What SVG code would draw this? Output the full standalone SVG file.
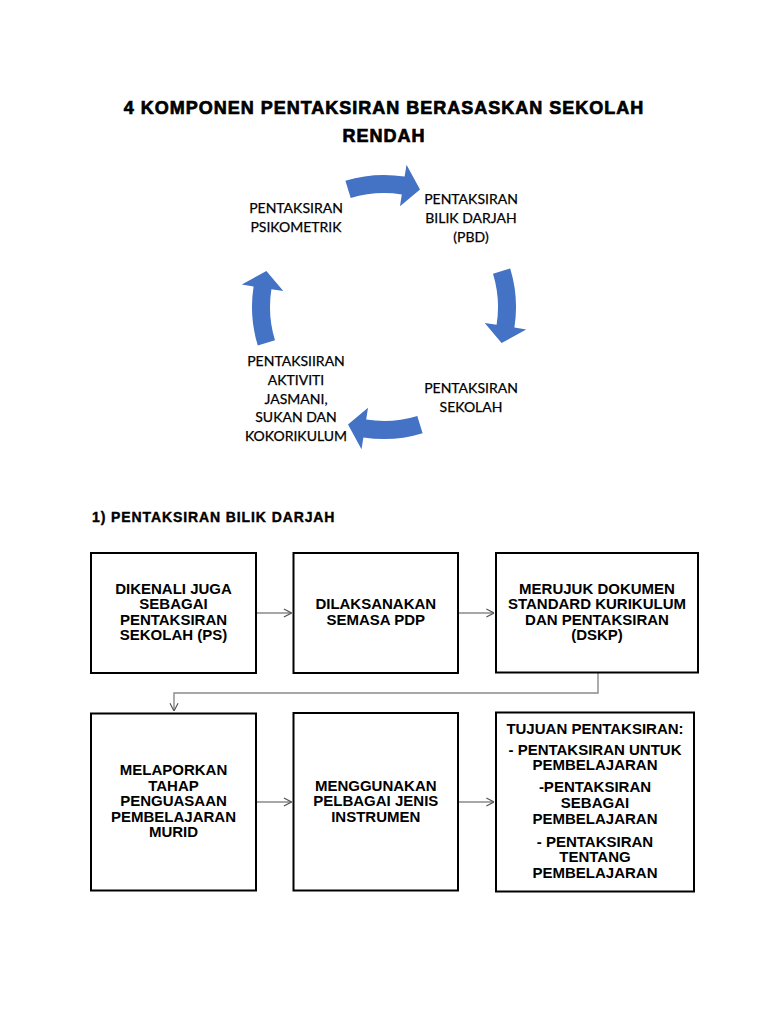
<svg xmlns="http://www.w3.org/2000/svg" width="768" height="1024" viewBox="0 0 768 1024">
  <style>
    .title { font-family: "Liberation Sans", Arial, sans-serif; font-weight: bold; font-size: 18px; letter-spacing: 1px; fill: #000; stroke: #000; stroke-width: 0.7; text-anchor: middle; }
    .heading { font-family: "Liberation Sans", Arial, sans-serif; font-weight: bold; font-size: 14px; letter-spacing: 0.9px; fill: #000; stroke: #000; stroke-width: 0.4; }
    .cyc { font-family: Lato, "Liberation Sans", sans-serif; font-size: 14px; fill: #000; stroke: #000; stroke-width: 0.25; text-anchor: middle; }
    .box { fill: #fff; stroke: #000; stroke-width: 2; }
    .bt { font-family: "Liberation Sans", Arial, sans-serif; font-weight: bold; font-size: 15px; fill: #000; text-anchor: middle; }
    .conn { fill: none; stroke: #8a8a8a; stroke-width: 1.4; }
    .blue { fill: #4472C4; }
  </style>
  <defs>
    <marker id="chev" viewBox="0 0 10 10" refX="9.5" refY="5" markerWidth="9" markerHeight="10" markerUnits="userSpaceOnUse" orient="auto">
      <path d="M1,0.5 L9.5,5 L1,9.5" fill="none" stroke="#555" stroke-width="1.3"/>
    </marker>
    <path id="carrow" d="M345.4,180.8 A132,132 0 0 1 404.6,176.6 L406.5,164.8 L420,189.4 L400,206.3 L401.8,194.4 A114,114 0 0 0 350.7,198 Z"/>
  </defs>

  <rect width="768" height="1024" fill="#fff"/>

  <g id="title">
    <text class="title" x="384" y="114">4 KOMPONEN PENTAKSIRAN BERASASKAN SEKOLAH</text>
    <text class="title" x="384" y="142">RENDAH</text>
  </g>

  <g id="connectors">
    <g id="cycle-arrows" class="blue">
      <use href="#carrow"/>
      <use href="#carrow" transform="rotate(90 384 307)"/>
      <use href="#carrow" transform="rotate(180 384 307)"/>
      <use href="#carrow" transform="rotate(270 384 307)"/>
    </g>
    <line class="conn" x1="256.5" y1="613" x2="291.5" y2="613" marker-end="url(#chev)"/>
    <line class="conn" x1="458.5" y1="613" x2="494" y2="613" marker-end="url(#chev)"/>
    <path class="conn" d="M598,673 V693 H174 V711" marker-end="url(#chev)"/>
    <line class="conn" x1="256.5" y1="802" x2="291.5" y2="802" marker-end="url(#chev)"/>
    <line class="conn" x1="458.5" y1="802" x2="494" y2="802" marker-end="url(#chev)"/>
  </g>

  <g id="node-psikometrik">
    <text class="cyc" x="296" y="213">PENTAKSIRAN</text>
    <text class="cyc" x="296" y="232">PSIKOMETRIK</text>
  </g>
  <g id="node-pbd">
    <text class="cyc" x="471" y="204">PENTAKSIRAN</text>
    <text class="cyc" x="471" y="223">BILIK DARJAH</text>
    <text class="cyc" x="471" y="242">(PBD)</text>
  </g>
  <g id="node-sekolah">
    <text class="cyc" x="471" y="393">PENTAKSIRAN</text>
    <text class="cyc" x="471" y="412">SEKOLAH</text>
  </g>
  <g id="node-aktiviti">
    <text class="cyc" x="296" y="366">PENTAKSIIRAN</text>
    <text class="cyc" x="296" y="385">AKTIVITI</text>
    <text class="cyc" x="296" y="403.5">JASMANI,</text>
    <text class="cyc" x="296" y="422">SUKAN DAN</text>
    <text class="cyc" x="296" y="441">KOKORIKULUM</text>
  </g>

  <g id="heading">
    <text class="heading" x="92" y="522">1) PENTAKSIRAN BILIK DARJAH</text>
  </g>

  <g id="box1">
    <rect class="box" x="91" y="553" width="165" height="120"/>
    <text class="bt" x="173.5" y="593.5">DIKENALI JUGA</text>
    <text class="bt" x="173.5" y="609">SEBAGAI</text>
    <text class="bt" x="173.5" y="624.5">PENTAKSIRAN</text>
    <text class="bt" x="173.5" y="640">SEKOLAH (PS)</text>
  </g>
  <g id="box2">
    <rect class="box" x="293.5" y="553" width="164.5" height="120"/>
    <text class="bt" x="375.8" y="609">DILAKSANAKAN</text>
    <text class="bt" x="375.8" y="624.5">SEMASA PDP</text>
  </g>
  <g id="box3">
    <rect class="box" x="496" y="553" width="202" height="119.5"/>
    <text class="bt" x="597" y="593.5">MERUJUK DOKUMEN</text>
    <text class="bt" x="597" y="609">STANDARD KURIKULUM</text>
    <text class="bt" x="597" y="624.5">DAN PENTAKSIRAN</text>
    <text class="bt" x="597" y="640">(DSKP)</text>
  </g>
  <g id="box4">
    <rect class="box" x="91" y="713.5" width="165" height="177"/>
    <text class="bt" x="173.5" y="775">MELAPORKAN</text>
    <text class="bt" x="173.5" y="790.5">TAHAP</text>
    <text class="bt" x="173.5" y="806">PENGUASAAN</text>
    <text class="bt" x="173.5" y="821.5">PEMBELAJARAN</text>
    <text class="bt" x="173.5" y="837">MURID</text>
  </g>
  <g id="box5">
    <rect class="box" x="293.5" y="713" width="164.5" height="177.5"/>
    <text class="bt" x="375.8" y="790.5">MENGGUNAKAN</text>
    <text class="bt" x="375.8" y="806">PELBAGAI JENIS</text>
    <text class="bt" x="375.8" y="821.5">INSTRUMEN</text>
  </g>
  <g id="box6">
    <rect class="box" x="496" y="712.5" width="198" height="179" stroke-width="1.6"/>
    <text class="bt" x="595" y="733.5">TUJUAN PENTAKSIRAN:</text>
    <text class="bt" x="595" y="754.5">- PENTAKSIRAN UNTUK</text>
    <text class="bt" x="595" y="770">PEMBELAJARAN</text>
    <text class="bt" x="595" y="792">-PENTAKSIRAN</text>
    <text class="bt" x="595" y="808">SEBAGAI</text>
    <text class="bt" x="595" y="824">PEMBELAJARAN</text>
    <text class="bt" x="595" y="846.5">- PENTAKSIRAN</text>
    <text class="bt" x="595" y="862">TENTANG</text>
    <text class="bt" x="595" y="878">PEMBELAJARAN</text>
  </g>
</svg>
